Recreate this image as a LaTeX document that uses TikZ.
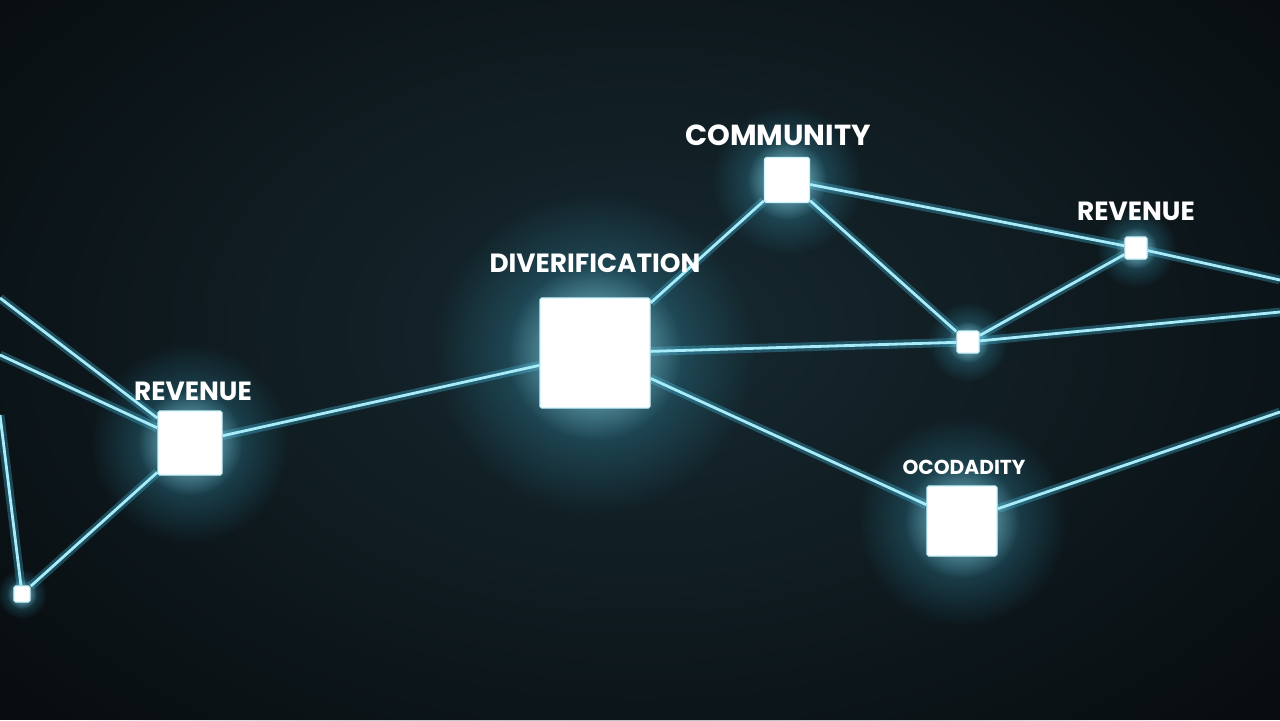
\documentclass[tikz,border=0pt]{standalone}
\usepackage{fontspec}
\setmainfont{Poppins}
\usetikzlibrary{calc, fadings}
\definecolor{bgdark}{HTML}{080D10}
\definecolor{bgmid}{HTML}{172A31}
\definecolor{beam}{HTML}{A8ECFA}
\definecolor{halo}{HTML}{3FB3D6}
\tikzfading[name=softglow, inner color=transparent!0, outer color=transparent!100]
\pgfdeclarelayer{backdrop}
\pgfdeclarelayer{links}
\pgfsetlayers{backdrop,links,main}

\begin{document}
\begin{tikzpicture}[x=0.02cm, y=-0.02cm]
    % glowing boxes
    \tikzstyle{box}=[inner sep=0, fill=white, draw=beam!60!white, line width=.8pt, rounded corners=1pt]
    % beams between boxes
    \tikzstyle{wire}=[line width=1.6pt, draw=beam, preaction={draw=halo, line width=5pt, draw opacity=.35}]
    \tikzstyle{glow}=[fill=halo, path fading=softglow, opacity=.5]
    \tikzstyle{bloom}=[fill=beam, path fading=softglow, opacity=.75]
    \tikzstyle{lbl}=[inner sep=0, text=white]
    \useasboundingbox (0,0) rectangle (1280,720);
    % boxes
    \node[box, minimum size=2.2cm] (div) at (595,353) {};
    \node[box, minimum size=0.9cm] (com) at (787,180) {};
    \node[box, minimum size=0.44cm] (revr) at (1136,248) {};
    \node[box, minimum size=0.44cm] (mid) at (968,342) {};
    \node[box, minimum size=1.4cm] (oco) at (962,521) {};
    \node[box, minimum size=1.28cm] (revl) at (190,443) {};
    \node[box, minimum size=0.32cm] (sml) at (22,594) {};
    % labels above the boxes
    \node[lbl, font=\bfseries\fontsize{15}{18}\selectfont] (divlbl) at ($(div)+(0,-90)$) {DIVERIFICATION};
    \node[lbl, font=\bfseries\fontsize{16.5}{20}\selectfont] (comlbl) at ($(com)+(-9,-45)$) {COMMUNITY};
    \node[lbl, font=\bfseries\fontsize{15}{18}\selectfont] (revrlbl) at ($(revr)+(0,-37)$) {REVENUE};
    \node[lbl, font=\bfseries\fontsize{15}{18}\selectfont] (revllbl) at ($(revl)+(3,-52)$) {REVENUE};
    \node[lbl, font=\bfseries\fontsize{11.5}{14}\selectfont] (ocolbl) at ($(oco)+(2,-54)$) {OCODADITY};
    % free ends at the border
    \coordinate (w1) at (0,298);
    \coordinate (w2) at (0,355);
    \coordinate (w3) at (0,415);
    \coordinate (e1) at (1280,312);
    \coordinate (e2) at (1280,280);
    \coordinate (e3) at (1280,412);
    \begin{pgfonlayer}{backdrop}
        \fill[bgdark] (0,0) rectangle (1280,720);
        \fill[bgmid, path fading=softglow] (640,330) ellipse (17cm and 11cm);
        % halos
        \fill[glow] (div) circle (3.2cm);
        \fill[glow] (com) circle (1.5cm);
        \fill[glow] (revr) circle (0.8cm);
        \fill[glow] (mid) circle (0.8cm);
        \fill[glow] (oco) circle (2.1cm);
        \fill[glow] (revl) circle (2.0cm);
        \fill[glow] (sml) circle (0.5cm);
    \end{pgfonlayer}
    \begin{pgfonlayer}{links}
        \draw[wire] (revl) -- (div);
        \draw[wire] (div) -- (com);
        \draw[wire] (div) -- (mid);
        \draw[wire] (div) -- (oco);
        \draw[wire] (com) -- (mid);
        \draw[wire] (com) -- (revr);
        \draw[wire] (mid) -- (revr);
        \draw[wire] (revl) -- (sml);
        \draw[wire] (w1) -- (revl);
        \draw[wire] (w2) -- (revl);
        \draw[wire] (w3) -- (sml);
        \draw[wire] (mid) -- (e1);
        \draw[wire] (revr) -- (e2);
        \draw[wire] (oco) -- (e3);
        % bright bloom round each box
        \fill[bloom] (div) circle (1.75cm);
        \fill[bloom] (com) circle (0.8cm);
        \fill[bloom] (revr) circle (0.42cm);
        \fill[bloom] (mid) circle (0.42cm);
        \fill[bloom] (oco) circle (1.15cm);
        \fill[bloom] (revl) circle (1.05cm);
        \fill[bloom] (sml) circle (0.3cm);
    \end{pgfonlayer}
\end{tikzpicture}
\end{document}
